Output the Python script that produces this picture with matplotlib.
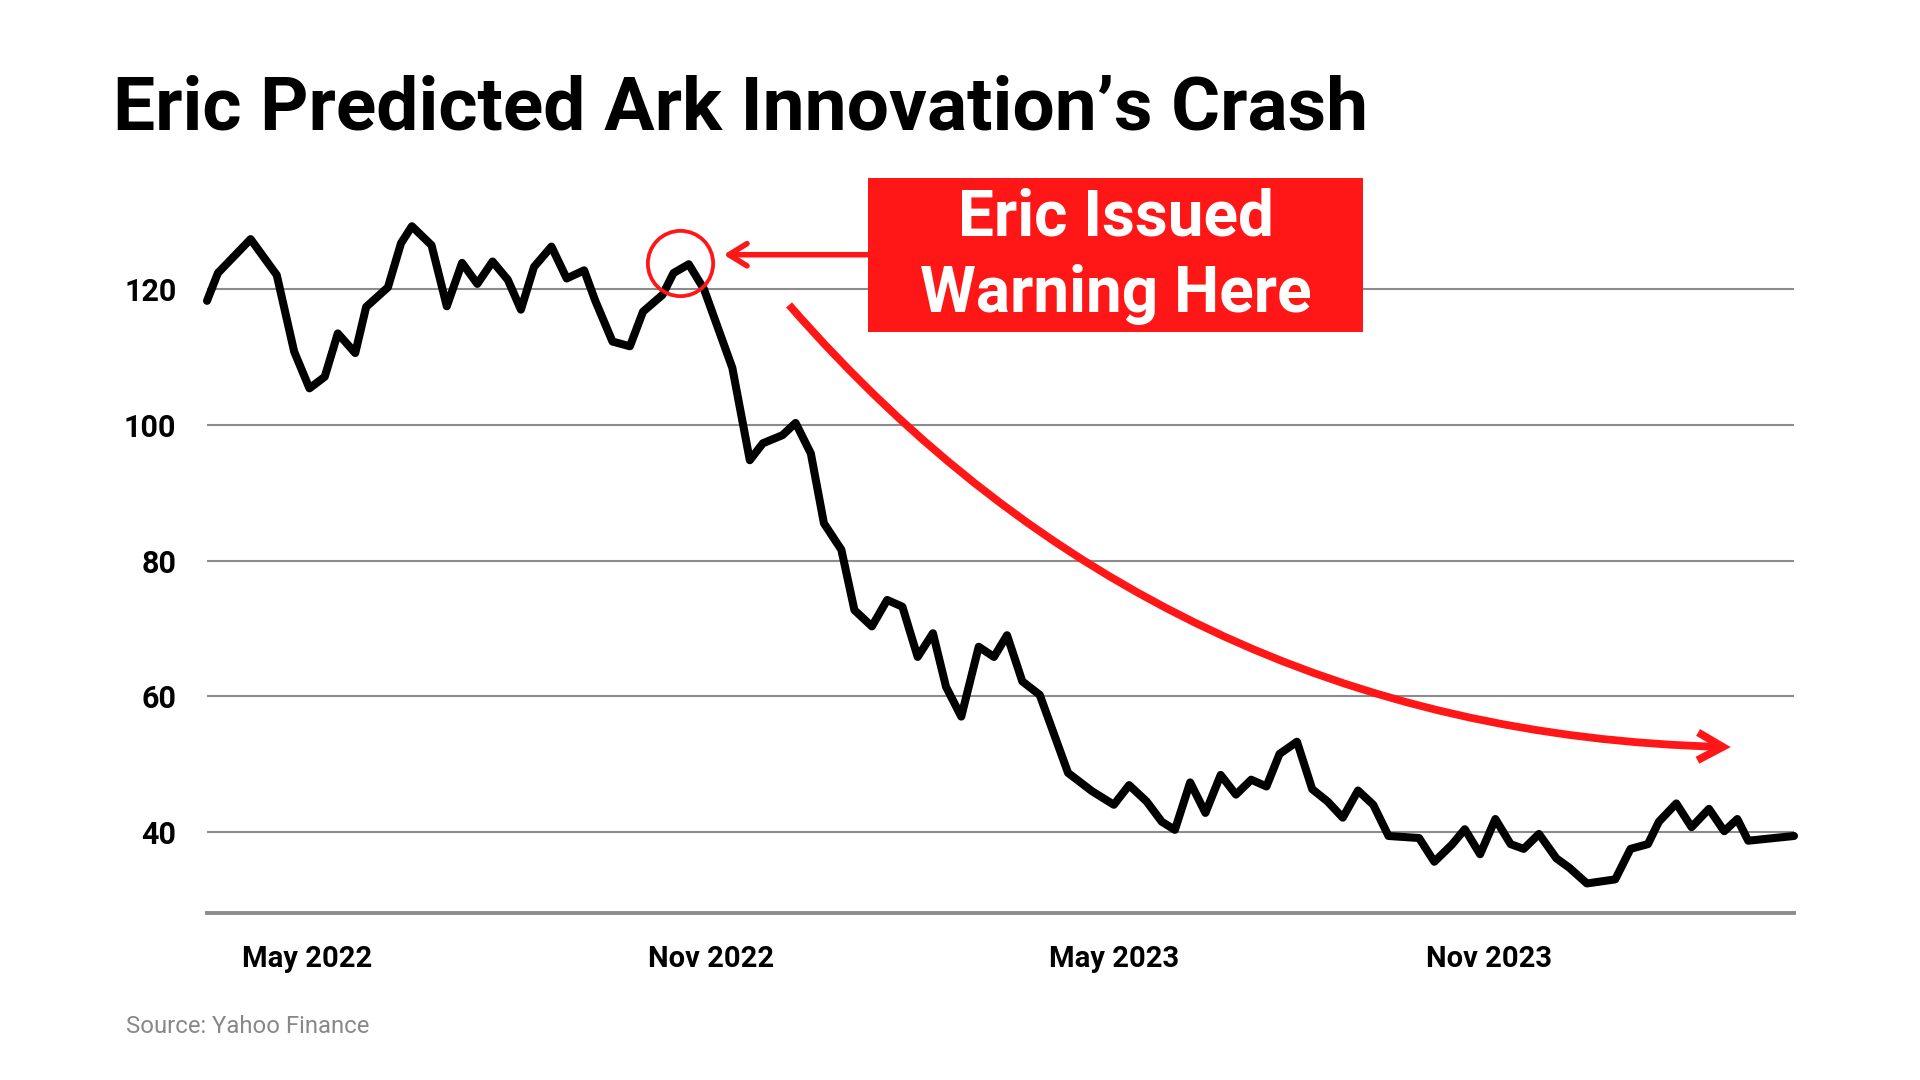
import matplotlib
matplotlib.use('Agg')
import matplotlib.pyplot as plt
import matplotlib.dates as mdates
from matplotlib.patches import Rectangle, FancyArrowPatch
import pandas as pd

# weekly closes (vertices of the line)
dates = [
    '2022-03-11', '2022-03-16', '2022-03-31', '2022-04-12', '2022-04-20', '2022-04-27', '2022-05-04', '2022-05-10', '2022-05-18', '2022-05-23',
    '2022-06-02', '2022-06-08', '2022-06-13', '2022-06-22', '2022-06-29', '2022-07-06', '2022-07-13', '2022-07-20', '2022-07-27', '2022-08-02',
    '2022-08-08', '2022-08-16', '2022-08-23', '2022-08-31', '2022-09-05', '2022-09-13', '2022-09-21', '2022-09-27', '2022-10-06', '2022-10-11',
    '2022-10-18', '2022-10-25', '2022-11-07', '2022-11-15', '2022-11-21', '2022-11-30', '2022-12-06', '2022-12-13', '2022-12-19', '2022-12-27',
    '2023-01-02', '2023-01-10', '2023-01-17', '2023-01-24', '2023-01-31', '2023-02-07', '2023-02-13', '2023-02-20', '2023-02-28', '2023-03-07',
    '2023-03-13', '2023-03-20', '2023-03-28', '2023-04-10', '2023-04-21', '2023-05-01', '2023-05-08', '2023-05-16', '2023-05-23', '2023-05-29',
    '2023-06-05', '2023-06-12', '2023-06-19', '2023-06-26', '2023-07-03', '2023-07-10', '2023-07-16', '2023-07-24', '2023-07-31', '2023-08-07',
    '2023-08-14', '2023-08-21', '2023-08-28', '2023-09-04', '2023-09-18', '2023-09-25', '2023-10-03', '2023-10-09', '2023-10-16', '2023-10-23',
    '2023-10-30', '2023-11-05', '2023-11-12', '2023-11-20', '2023-11-26', '2023-12-04', '2023-12-17', '2023-12-24', '2024-01-01', '2024-01-06',
    '2024-01-14', '2024-01-21', '2024-01-29', '2024-02-05', '2024-02-11', '2024-02-16', '2024-03-08',
]
prices = [
    118.3, 122.4, 127.4, 122.1, 110.8, 105.4, 107.1, 113.5, 110.6, 117.4,
    120.3, 126.8, 129.3, 126.5, 117.5, 123.9, 120.8, 124.1, 121.4, 117.0,
    123.3, 126.3, 121.6, 122.8, 118.4, 112.3, 111.6, 116.7, 119.2, 122.4,
    123.7, 120.0, 108.4, 94.8, 97.3, 98.5, 100.3, 95.8, 85.5, 81.6,
    72.7, 70.3, 74.2, 73.2, 65.8, 69.3, 61.4, 57.0, 67.3, 65.8,
    69.0, 62.2, 60.2, 48.7, 46.0, 44.0, 46.9, 44.5, 41.5, 40.3,
    47.3, 42.8, 48.4, 45.5, 47.7, 46.7, 51.5, 53.3, 46.3, 44.5,
    42.1, 46.1, 44.0, 39.4, 39.1, 35.6, 38.1, 40.4, 36.7, 41.9,
    38.2, 37.5, 39.7, 36.1, 34.7, 32.4, 33.0, 37.5, 38.2, 41.5,
    44.2, 40.7, 43.4, 40.1, 41.9, 38.7, 39.4,
]

tick_dates = ['2022-04-26', '2022-10-28', '2023-05-01', '2023-10-20']
tick_labels = ['May 2022', 'Nov 2022', 'May 2023', 'Nov 2023']
y_ticks = [40, 60, 80, 100, 120]

# warning point and the falling-arrow ends
warn_date, warn_price = '2022-10-14', 123.9
arrow_tip_date, arrow_tail_date, arrow_y = '2022-11-03', '2023-01-08', 125.1
curve_start = ('2022-12-03', 117.7)
curve_end = ('2024-02-08', 52.5)

RED = '#FF1616'
GRID = '#8c8c8c'

plt.rcParams['font.family'] = ['Roboto', 'DejaVu Sans']

W, H = 1920, 1080
fig = plt.figure(figsize=(19.2, 10.8), dpi=100)
ax = fig.add_axes([207 / W, 1 - 913.3 / H, (1794 - 207) / W, (913.3 - 180.8) / H])

x = pd.to_datetime(dates)
ax.plot(x, prices, color='black', lw=5.8, solid_joinstyle='round',
        solid_capstyle='round', zorder=4, clip_on=False)

ax.set_xlim(pd.Timestamp('2022-03-11'), pd.Timestamp('2024-03-08'))
ax.set_ylim(28, 136)
ax.set_yticks(y_ticks)
ax.set_xticks(pd.to_datetime(tick_dates))
ax.set_xticklabels(tick_labels)

ax.grid(axis='y', color=GRID, lw=1.5)
ax.grid(axis='x', visible=False)
ax.set_axisbelow(True)
for s in ['top', 'right', 'left']:
    ax.spines[s].set_visible(False)
ax.spines['bottom'].set_color(GRID)
ax.spines['bottom'].set_linewidth(2.8)
ax.tick_params(axis='both', length=0)
ax.tick_params(axis='y', pad=22, labelsize=22)
ax.tick_params(axis='x', pad=23, labelsize=21)
for lab in ax.get_xticklabels() + ax.get_yticklabels():
    lab.set_fontweight('bold')

# circle on the peak
ax.plot(pd.Timestamp(warn_date), warn_price, marker='o', ms=47, mfc='none',
        mec=RED, mew=2.7, zorder=6)

# straight arrow from the box to the circle
ax.annotate('', xy=(pd.Timestamp(arrow_tip_date), arrow_y),
            xytext=(pd.Timestamp(arrow_tail_date), arrow_y),
            arrowprops=dict(arrowstyle='->,head_length=1.3,head_width=0.8',
                            color=RED, lw=4.0, shrinkA=0, shrinkB=0,
                            mutation_scale=10), zorder=6)

# curved arrow showing the fall
p0 = (mdates.date2num(pd.Timestamp(curve_start[0])), curve_start[1])
p1 = (mdates.date2num(pd.Timestamp(curve_end[0])), curve_end[1])
curve = FancyArrowPatch(p0, p1, connectionstyle='arc3,rad=0.22',
                        arrowstyle='->,head_length=1.8,head_width=1.0',
                        color=RED, lw=5.6, mutation_scale=10,
                        shrinkA=0, shrinkB=0, joinstyle='miter', capstyle='butt',
                        zorder=5)
ax.add_patch(curve)

# red label box
fig.add_artist(Rectangle((868 / W, 1 - 332 / H), 495 / W, 154 / H,
                         transform=fig.transFigure, facecolor=RED,
                         edgecolor='none', zorder=3))
fig.text(1115.5 / W, 1 - 235 / H, 'Eric Issued', ha='center', va='baseline',
         color='white', fontsize=46, fontweight='bold', zorder=4)
fig.text(1115.5 / W, 1 - 311.7 / H, 'Warning Here', ha='center', va='baseline',
         color='white', fontsize=46, fontweight='bold', zorder=4)

fig.text(113 / W, 1 - 130 / H, 'Eric Predicted Ark Innovation\u2019s Crash',
         fontsize=54, fontweight='bold', va='baseline')
fig.text(126 / W, 1 - 1033 / H, 'Source: Yahoo Finance', fontsize=17.2,
         color='#888888', va='baseline')

fig.savefig('out.png', dpi=100, facecolor='white')
